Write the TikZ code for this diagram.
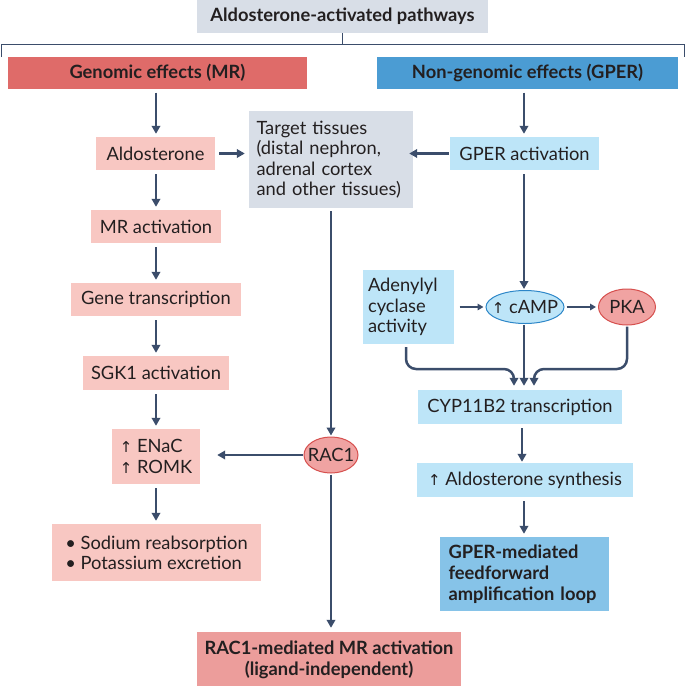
\documentclass[tikz,border=0pt]{standalone}
\usepackage{fontspec}
\setmainfont{Lato}
\newfontfamily\symf{DejaVu Sans}
\usetikzlibrary{arrows.meta,shapes.geometric}
\definecolor{txt}{HTML}{231F20}
\definecolor{arr}{HTML}{3B4D6B}
\definecolor{pinkf}{HTML}{F8C7C2}
\definecolor{grayf}{HTML}{D8DEE7}
\definecolor{lblue}{HTML}{BDE5F8}
\definecolor{genh}{HTML}{DF6B69}
\definecolor{nongh}{HTML}{4B9CD3}
\definecolor{racbox}{HTML}{EC9D9B}
\definecolor{gperbox}{HTML}{86C3E8}
\definecolor{redf}{HTML}{F0A3A2}
\definecolor{redd}{HTML}{D6504E}
\definecolor{blued}{HTML}{2C86C8}
\newcommand{\upa}{{\symf\fontsize{15}{20}\selectfont ↑}}
\tikzset{
  base/.style={inner sep=0pt, text=txt, font=\fontsize{18.3}{20.3}\selectfont},
  box/.style={base, rectangle, align=center},
  pbox/.style={box, fill=pinkf},
  bbox/.style={box, fill=lblue},
  head/.style={box, font=\fontsize{18.3}{21}\selectfont\bfseries},
  oval/.style={base, ellipse, inner xsep=-9pt, inner ysep=-4pt, line width=1pt},
  link/.style={draw=arr, line width=2.5pt, -{Triangle[length=8pt,width=8.5pt]}},
  thin/.style={draw=arr, line width=1.5pt, -{Triangle[length=6pt,width=6.5pt]}},
}
\begin{document}
\begin{tikzpicture}[x=1pt,y=-1pt]
\useasboundingbox (0,0) rectangle (685,686);
% header
\node[head, fill=grayf, minimum width=291pt, minimum height=34pt] (title) at (342.5,16) {Aldosterone-activated pathways};
\node[head, fill=genh, minimum width=299pt, minimum height=32pt] (gen) at (157.5,72.5) {Genomic effects (MR)};
\node[head, fill=nongh, minimum width=301pt, minimum height=32pt] (ngen) at (527.5,72.5) {Non-genomic effects (GPER)};
\coordinate (bl) at (1,57);
\coordinate (br) at (684,57);
\draw[arr, line width=1pt] (bl) -- (1,44) -- (684,44) -- (br);
\draw[arr, line width=1pt] (title.south) -- (title.south |- 0,44);
% left column
\node[pbox, minimum width=119pt, minimum height=33pt] (aldo) at (155.5,153.5) {Aldosterone};
\node[pbox, minimum width=130pt, minimum height=33pt] (mr) at (156,226.5) {MR activation};
\node[pbox, minimum width=170pt, minimum height=33pt] (gene) at (156,299.5) {Gene transcription};
\node[pbox, minimum width=146pt, minimum height=34pt] (sgk) at (156,373) {SGK1 activation};
\node[pbox, minimum width=88pt, minimum height=55pt, align=left] (enac) at (156,456.5) {\upa\ ENaC\\\upa\ ROMK};
\node[pbox, minimum width=209pt, minimum height=57pt, align=left] (sod) at (156.5,552.5) {• Sodium reabsorption\\• Potassium excretion};
% middle
\node[box, fill=grayf, minimum width=164pt, minimum height=97pt, align=left, text width=149pt] (tt) at (331,159.5) {Target tissues\\(distal nephron,\\adrenal cortex\\and other tissues)};
\node[oval, fill=redf, draw=redd, minimum width=54pt, minimum height=36pt] (rac) at (331,455) {RAC1};
\node[head, fill=racbox, minimum width=264pt, minimum height=56pt] (racm) at (329,660) {RAC1-mediated MR activation\\(ligand-independent)};
% right column
\node[bbox, minimum width=149pt, minimum height=33pt] (gpa) at (524.5,153.5) {GPER activation};
\node[bbox, minimum width=91pt, minimum height=74pt, align=left, text width=80pt] (ady) at (408,307) {Adenylyl\\cyclase\\activity};
\node[oval, fill=lblue, draw=blued, minimum width=78pt, minimum height=33pt] (camp) at (525,307) {\upa\ cAMP};
\node[oval, fill=redf, draw=redd, minimum width=57pt, minimum height=36pt] (pka) at (627,307) {PKA};
\node[bbox, minimum width=204pt, minimum height=34pt] (cyp) at (520,407) {CYP11B2 transcription};
\node[bbox, minimum width=216pt, minimum height=34pt] (syn) at (525,480) {\upa\ Aldosterone synthesis};
\node[head, fill=gperbox, minimum width=169pt, minimum height=74pt, align=left, text width=152pt] (gpm) at (524.5,574) {GPER-mediated\\feedforward\\amplification loop};
% connectors left
\draw[link] (gen.south -| 156,0) ++(0,4) -- ([yshift=3pt]aldo.north -| 156,0);
\draw[link] ([yshift=-4pt]aldo.south -| 156,0) -- ([yshift=3pt]mr.north);
\draw[link] ([yshift=-4pt]mr.south) -- ([yshift=3pt]gene.north);
\draw[link] ([yshift=-4pt]gene.south) -- ([yshift=3pt]sgk.north);
\draw[link] ([yshift=-4pt]sgk.south) -- ([yshift=3pt]enac.north);
\draw[link] ([yshift=-4pt]enac.south) -- ([yshift=3pt]sod.north -| 156,0);
\draw[link] ([xshift=4pt]aldo.east) -- ([xshift=-4pt]tt.west |- aldo.east);
\draw[link] ([xshift=-1pt]gpa.west) -- ([xshift=-4pt]tt.east |- gpa.west);
\draw[link] ([yshift=-3pt]tt.south) -- ([yshift=1pt]rac.north);
\draw[link] ([xshift=-1pt]rac.west) -- ([xshift=17pt]enac.east |- rac.west);
\draw[link] ([yshift=-1pt]rac.south) -- ([yshift=4pt]racm.north -| rac);
% connectors right
\draw[link] (ngen.south -| 524,0) ++(0,4) -- ([yshift=3pt]gpa.north -| 524,0);
\draw[link] ([yshift=-4pt]gpa.south -| 524,0) -- ([yshift=1pt]camp.north -| 524,0);
\draw[thin] ([xshift=6pt]ady.east) -- ([xshift=-2pt]camp.west);
\draw[thin] ([xshift=2pt]camp.east) -- ([xshift=-2pt]pka.west);
\draw[link] ([yshift=-1pt]camp.south -| 524,0) -- ([yshift=4pt]cyp.north -| 524,0);
\draw[link, rounded corners=10pt] ([yshift=-3pt]ady.south -| 406,0) |- (514,369) -- ([yshift=4pt]cyp.north -| 514,0);
\draw[link, rounded corners=10pt] ([yshift=-1pt]pka.south) |- (534,369) -- ([yshift=4pt]cyp.north -| 534,0);
\draw[link] ([yshift=-4pt]cyp.south -| 522,0) -- ([yshift=1pt]syn.north -| 522,0);
\draw[link] ([yshift=-4pt]syn.south -| 524,0) -- ([yshift=3pt]gpm.north -| 524,0);
\end{tikzpicture}
\end{document}
